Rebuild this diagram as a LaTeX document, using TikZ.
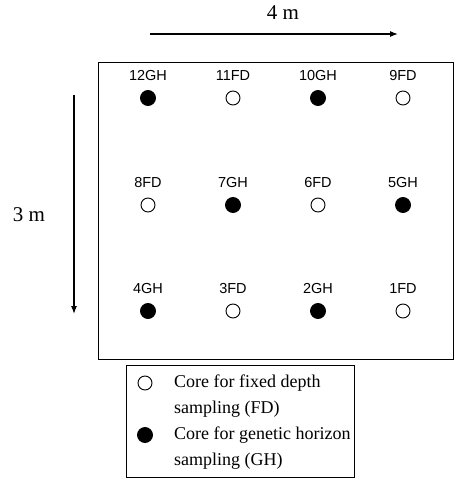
\documentclass[tikz,border=0pt]{standalone}
\usepackage{fontspec}
\setmainfont{Liberation Serif}
\setsansfont{Liberation Sans}
\usetikzlibrary{positioning,arrows.meta}

\begin{document}
\begin{tikzpicture}[x=1pt, y=-1pt,
  plot/.style={draw, line width=1pt},
  fd/.style={circle, draw, line width=0.9pt, fill=white, minimum size=14pt, inner sep=0pt},
  gh/.style={circle, draw, line width=0.9pt, fill=black, minimum size=15pt, inner sep=0pt},
  lab/.style={font=\sffamily\fontsize{14.5}{16}\selectfont, inner sep=0pt},
  dim/.style={font=\fontsize{21}{24}\selectfont, inner sep=0pt},
  leg/.style={font=\fontsize{18}{26}\selectfont, align=left, anchor=west, inner sep=0pt},
  arr/.style={-{Latex[length=8pt,width=6pt]}, line width=1.2pt}
]
\useasboundingbox (0,0) rectangle (474,489);
% sampling plot
\draw[plot] (98,63) rectangle (453,359);
% dimensions
\coordinate (xs) at (150,34); \coordinate (xe) at (398,34);
\coordinate (ys) at (74,95); \coordinate (ye) at (74,314);
\draw[arr] (xs) -- (xe);
\draw[arr] (ys) -- (ye);
\node[dim] (w) at (283,13) {4 m};
\node[dim] (h) at (29,215) {3 m};
% cores
\foreach \n/\x/\y/\t/\code in {12/148/98/gh/GH, 11/233/98/fd/FD, 10/318/98/gh/GH, 9/403/98/fd/FD,
                              8/148/205/fd/FD, 7/233/205/gh/GH, 6/318/205/fd/FD, 5/403/205/gh/GH,
                              4/148/311/gh/GH, 3/233/311/fd/FD, 2/318/311/gh/GH, 1/403/311/fd/FD} {
  \node[\t] (c\n) at (\x,\y) {};
  \node[lab, above=17pt of c\n.center] (l\n) {\n\code};
}
% legend
\draw[line width=1pt] (126,365) rectangle (354,477);
\node[fd] (kfd) at (145,383) {};
\node[gh] (kgh) at (145,435) {};
\node[leg] (tfd) at (174,396) {Core for fixed depth\\sampling (FD)};
\node[leg] (tgh) at (174,448) {Core for genetic horizon\\sampling (GH)};
\end{tikzpicture}
\end{document}
